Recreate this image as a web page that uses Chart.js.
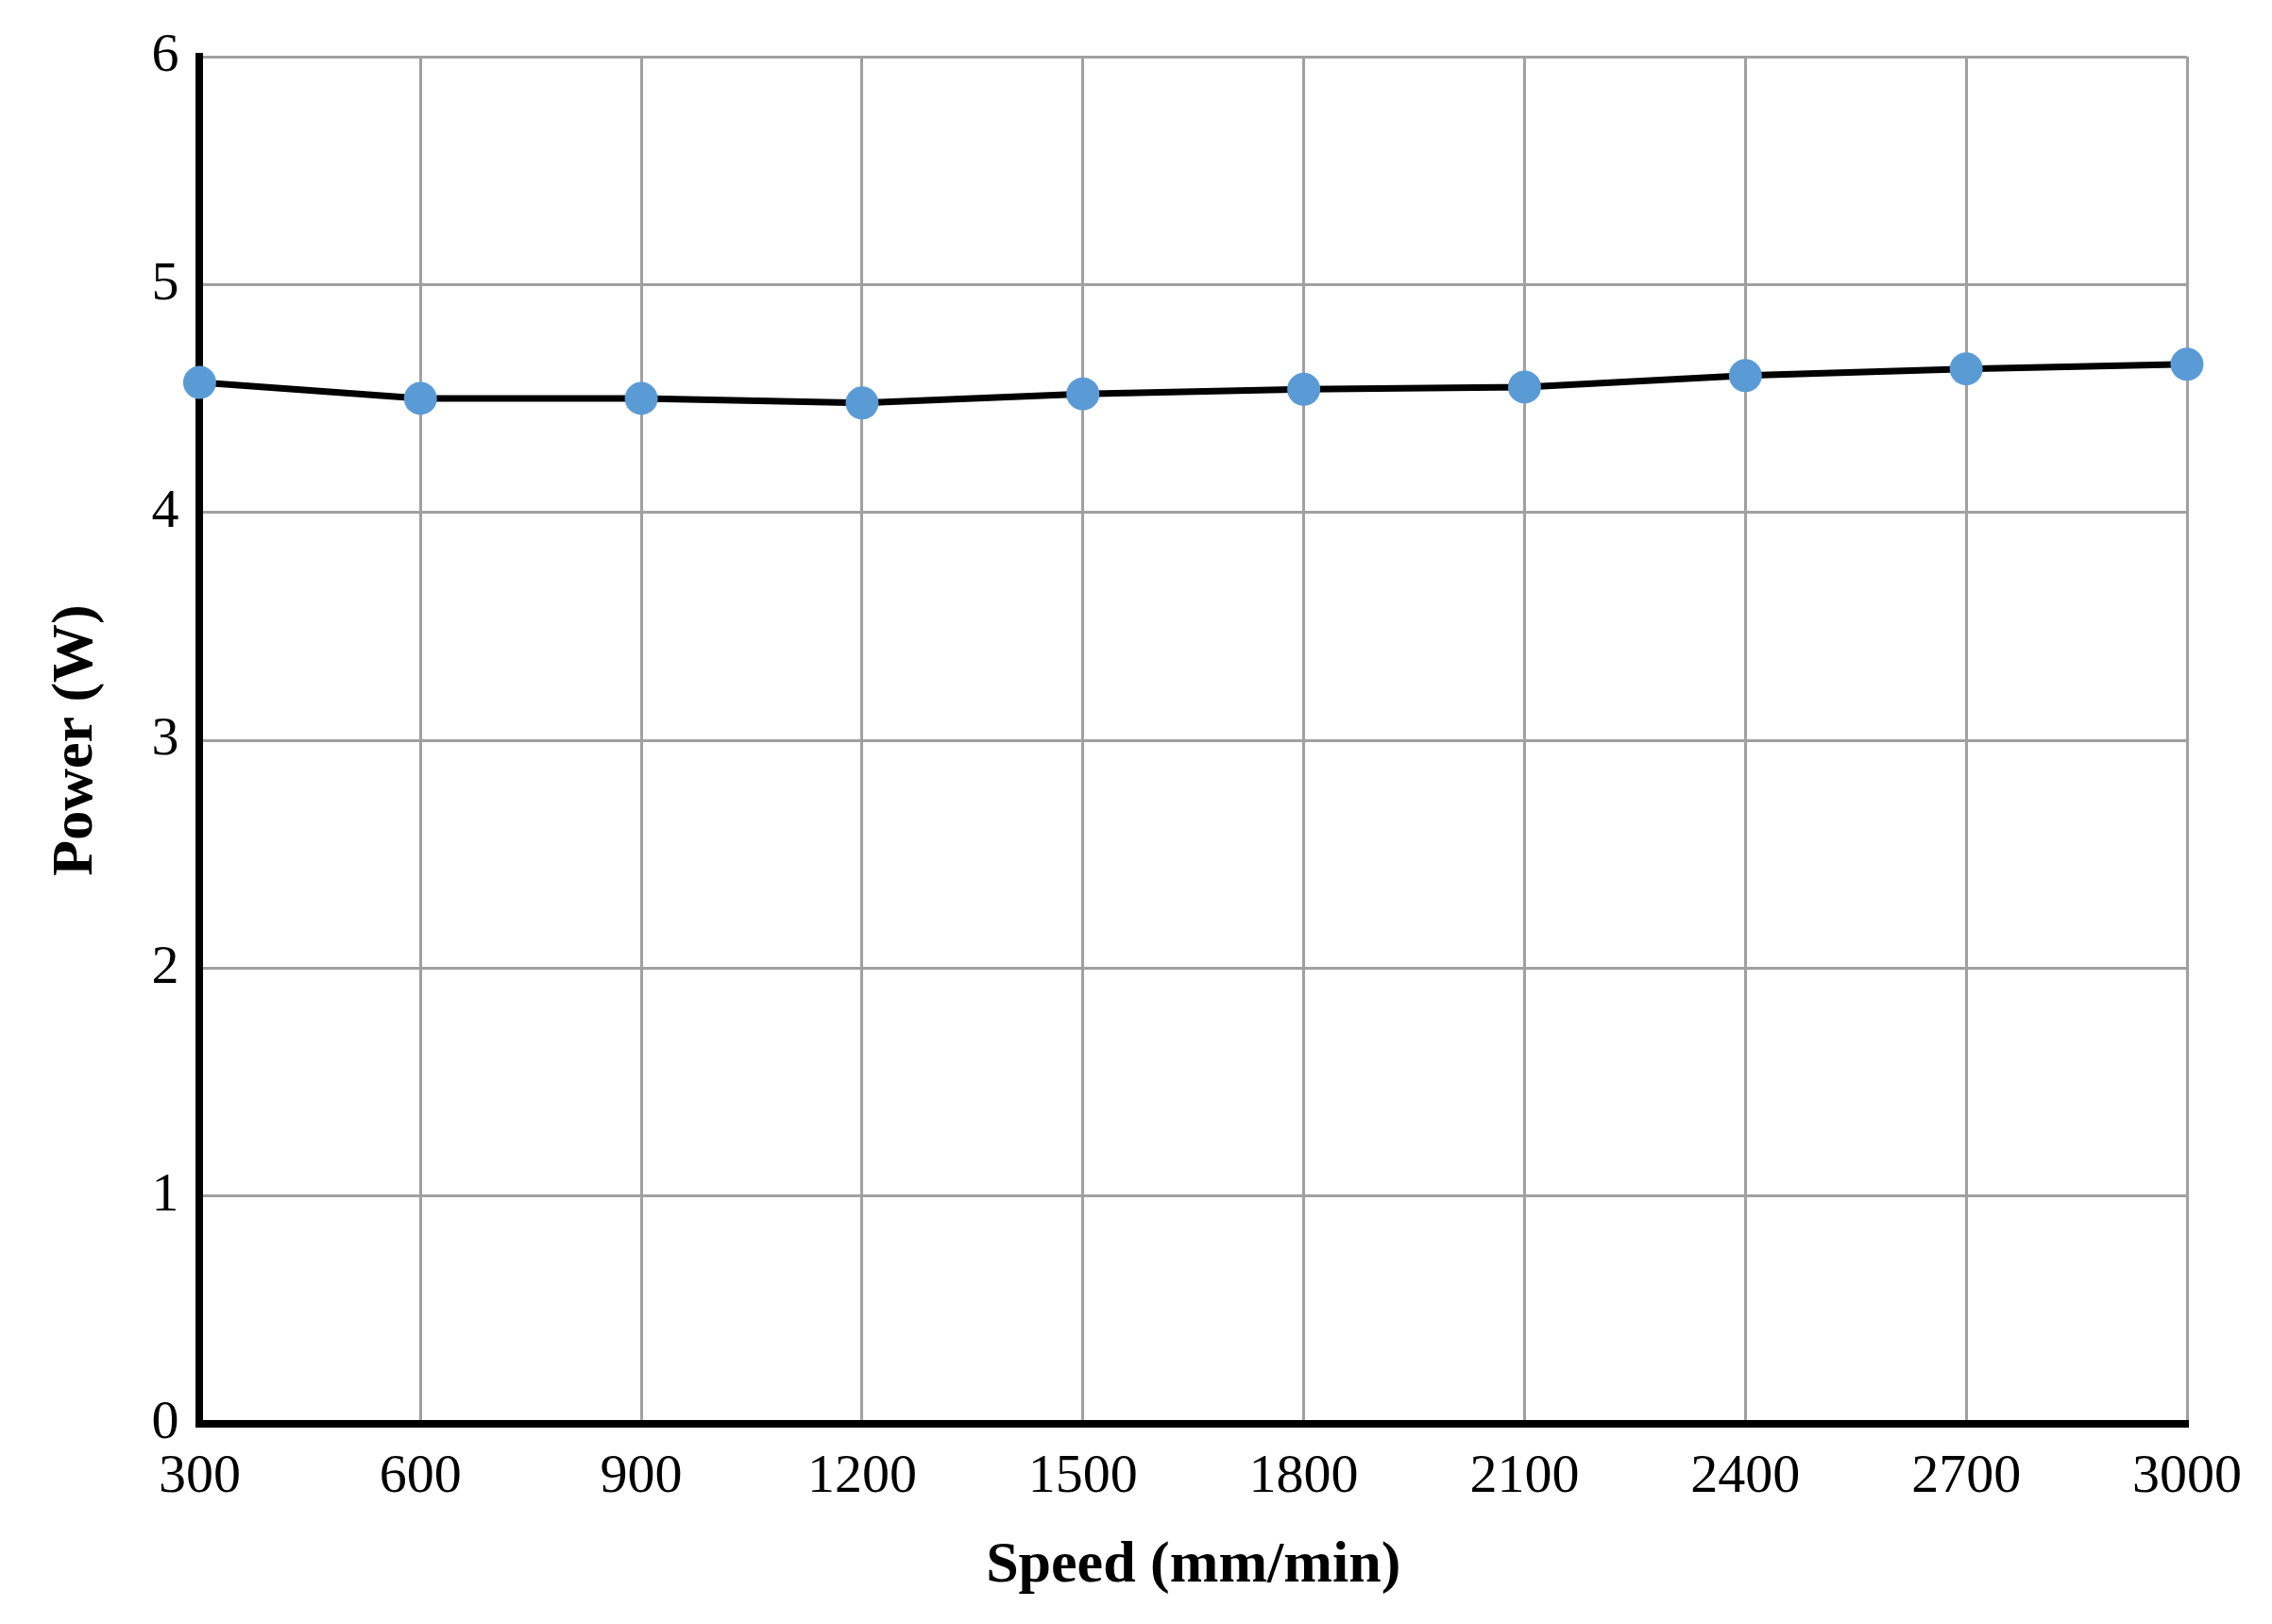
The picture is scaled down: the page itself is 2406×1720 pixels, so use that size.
<!DOCTYPE html>
<html><head><meta charset="utf-8">
<script src="https://cdn.jsdelivr.net/npm/chart.js@4"></script>
<style>html,body{margin:0;background:#fff}#w{width:2406px;height:1720px}</style>
</head><body><div id="w"><canvas id="c"></canvas></div>
<script>
const speeds = ['300','600','900','1200','1500','1800','2100','2400','2700','3000'];
const power = [4.57,4.50,4.50,4.48,4.52,4.54,4.55,4.60,4.63,4.65];
const F = 'Liberation Serif, Times New Roman, serif';
new Chart(document.getElementById('c'), {
  type: 'line',
  data: { labels: speeds, datasets: [{ data: power, borderColor: '#000', borderWidth: 7,
    pointBackgroundColor: '#5b9bd5', pointBorderColor: '#5b9bd5', pointRadius: 14, tension: 0 }] },
  options: {
    responsive: true, maintainAspectRatio: false, animation: false,
    layout: { padding: { top: 60, right: 90, left: 40, bottom: 20 } },
    plugins: { legend: { display: false }, tooltip: { enabled: false } },
    scales: {
      x: { offset: false,
        grid: { color: '#a0a0a0', lineWidth: 3, drawTicks: false },
        border: { display: true, color: '#000', width: 8, dash: [] },
        ticks: { color: '#000', font: { family: F, size: 58 }, padding: 22, maxRotation: 0 },
        title: { display: true, text: 'Speed (mm/min)', color: '#000', font: { family: F, size: 62, weight: 'bold' }, padding: { top: 0 } } },
      y: { min: 0, max: 6,
        grid: { color: '#a0a0a0', lineWidth: 3, drawTicks: false },
        border: { display: true, color: '#000', width: 8 },
        ticks: { stepSize: 1, color: '#000', font: { family: F, size: 58 }, padding: 22 },
        title: { display: true, text: 'Power (W)', color: '#000', font: { family: F, size: 62, weight: 'bold' }, padding: { bottom: 20 } } }
    }
  },
  plugins: [{ id: 'dash', beforeDraw(ch) {
    ch.options.scales.x.grid.borderDash = [6, 6];
  }}]
});
</script></body></html>
